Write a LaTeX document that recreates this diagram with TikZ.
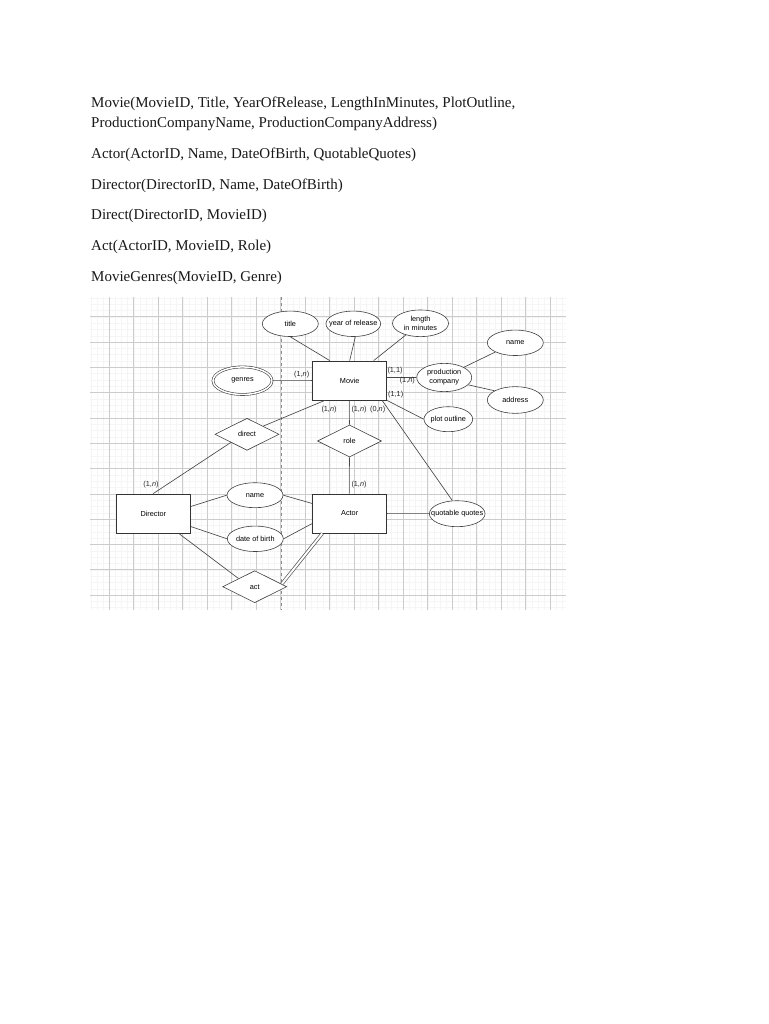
\documentclass[tikz,border=0pt]{standalone}
\usepackage{fontspec}
\setmainfont{Liberation Serif}
\setsansfont{Liberation Sans}
\usetikzlibrary{shapes.geometric}

\begin{document}
\begin{tikzpicture}[x=1pt,y=-1pt,
    every node/.style={font=\sffamily\fontsize{7.3}{9}\selectfont},
    schema/.style={font=\fontsize{15}{20}\selectfont, anchor=base west, inner sep=0pt, text=black!90},
    majorgrid/.style={draw=black!20, line width=.5pt},
    minorgrid/.style={draw=black!4, line width=.35pt},
    ent/.style={draw=black!80, line width=.9pt, fill=white, minimum width=74pt, minimum height=39pt, inner sep=0pt},
    attr/.style={ellipse, draw=black!75, line width=.6pt, fill=white, minimum width=56pt, minimum height=25.5pt, inner sep=0pt, align=center},
    rel/.style={diamond, draw=black!75, line width=.6pt, fill=white, minimum width=64pt, minimum height=32pt, inner sep=0pt},
    link/.style={draw=black!72, line width=.65pt},
    card/.style={inner sep=0pt, text=black!85}]
        \useasboundingbox (0,0) rectangle (768,1024);
        \fill[white] (0,0) rectangle (768,1024);
        \node[schema] (smovie) at (91,107.5) {Movie(MovieID, Title, YearOfRelease, LengthInMinutes, PlotOutline,};
        \node[schema] (smovieb) at (91,127.5) {ProductionCompanyName, ProductionCompanyAddress)};
        \node[schema] (sactor) at (91,158.5) {Actor(ActorID, Name, DateOfBirth, QuotableQuotes)};
        \node[schema] (sdirector) at (91,189.5) {Director(DirectorID, Name, DateOfBirth)};
        \node[schema] (sdirect) at (91,220) {Direct(DirectorID, MovieID)};
        \node[schema] (sact) at (91,251) {Act(ActorID, MovieID, Role)};
        \node[schema] (sgenres) at (91,281.5) {MovieGenres(MovieID, Genre)};
        \begin{scope}
          \clip (90,297) rectangle (566,610);
          \foreach \i in {-8,...,70}
            \draw[minorgrid] ({133.7+6.125*\i},297) -- ({133.7+6.125*\i},610);
          \foreach \j in {-4,...,48}
            \draw[minorgrid] (90,{316.7+6.325*\j}) -- (566,{316.7+6.325*\j});
          \foreach \i in {-2,...,18}
            \draw[majorgrid] ({133.7+24.5*\i},297) -- ({133.7+24.5*\i},610);
          \foreach \j in {-1,...,12}
            \draw[majorgrid] (90,{316.7+25.3*\j}) -- (566,{316.7+25.3*\j});
          \draw[black!45, line width=.5pt, dash pattern=on 3pt off 3pt] (281.7,297) -- (281.7,610);
        \end{scope}
        \node[ent] (movie) at (349.7,380.5) {Movie};
        \node[ent] (director) at (153.3,513.5) {Director};
        \node[ent] (actor) at (349.7,513.5) {Actor};
        \node[attr] (title) at (290.3,323.8) {title};
        \node[attr, minimum width=54.7pt] (year) at (353.3,323.8) {\makebox[0pt]{year of release}};
        \node[attr, minimum height=26.7pt] (length) at (420.5,323.3) {length\\in minutes};
        \node[attr, double, double distance=1.5pt, minimum width=59pt, minimum height=27.5pt] (genres) at (242.5,380.7) {genres};
        \node[attr, minimum width=55pt, minimum height=28.3pt] (prodco) at (444.2,377.5) {production\\company};
        \node[attr] (pcname) at (515.3,342.8) {name};
        \node[attr, minimum height=26.7pt] (address) at (515.3,400) {address};
        \node[attr, minimum width=48.7pt, minimum height=25pt] (plot) at (448.3,419.2) {\makebox[0pt]{plot outline}};
        \node[attr, minimum height=25pt] (dname) at (255,495.2) {name};
        \node[attr] (dob) at (255.3,538.8) {date of birth};
        \node[attr, minimum width=55.7pt, minimum height=26pt] (quotes) at (457.2,513.7) {\makebox[0pt]{quotable quotes}};
        \node[rel] (direct) at (247,434.3) {direct};
        \node[rel] (role) at (349.5,441) {role};
        \node[rel] (act) at (254.7,586.7) {act};
        \draw[link] (title.south) -- ([xshift=-20pt]movie.north);
        \draw[link] ([xshift=2pt]year.south) -- (movie.north);
        \draw[link] (length) -- ([xshift=24pt]movie.north);
        \draw[link] (genres) -- (movie);
        \draw[link] (prodco -| movie.east) -- (prodco);
        \draw[link] (prodco.north east) -- (pcname.south west);
        \draw[link] (prodco.-17) -- (address.156);
        \draw[link] (movie.south east) -- (plot.west);
        \draw[link] ([xshift=-5pt]movie.south east) -- ([xshift=-5pt]quotes.north);
        \draw[link] ([xshift=-25pt]movie.south) -- (direct.north east);
        \draw[link] (direct.south west) -- (director.north);
        \draw[link] (movie) -- (role);
        \draw[link] (role) -- (actor);
        \draw[link] ([yshift=7pt]director.east) -- (dname.west);
        \draw[link] ([yshift=-13pt]director.east) -- (dob.west);
        \draw[link] ([xshift=-12pt]director.south east) -- (act.north west);
        \draw[link] (dname.east) -- ([yshift=10pt]actor.west);
        \draw[link] (dob.east) -- ([yshift=-10pt]actor.west);
        \draw[link, double=white, double distance=2pt] ([xshift=10pt]actor.south west) -- ([xshift=-5pt,yshift=3pt]act.east);
        \draw[link] (actor) -- (quotes);
        \node[card] (cgenres) at (301.7,375) {(1,\textit{n})};
        \node[card] (cprodone) at (395,371) {(1,1)};
        \node[card] (cprodn) at (407.3,381) {(1,\textit{n})};
        \node[card] (cplot) at (395.7,395) {(1,1)};
        \node[card] (cdirect) at (329,409.3) {(1,\textit{n})};
        \node[card] (crole) at (359,409.3) {(1,\textit{n})};
        \node[card] (cquotes) at (377.7,409.3) {(0,\textit{n})};
        \node[card] (cdirector) at (151,484.3) {(1,\textit{n})};
        \node[card] (cactor) at (359,484.3) {(1,\textit{n})};
      \end{tikzpicture}
\end{document}
